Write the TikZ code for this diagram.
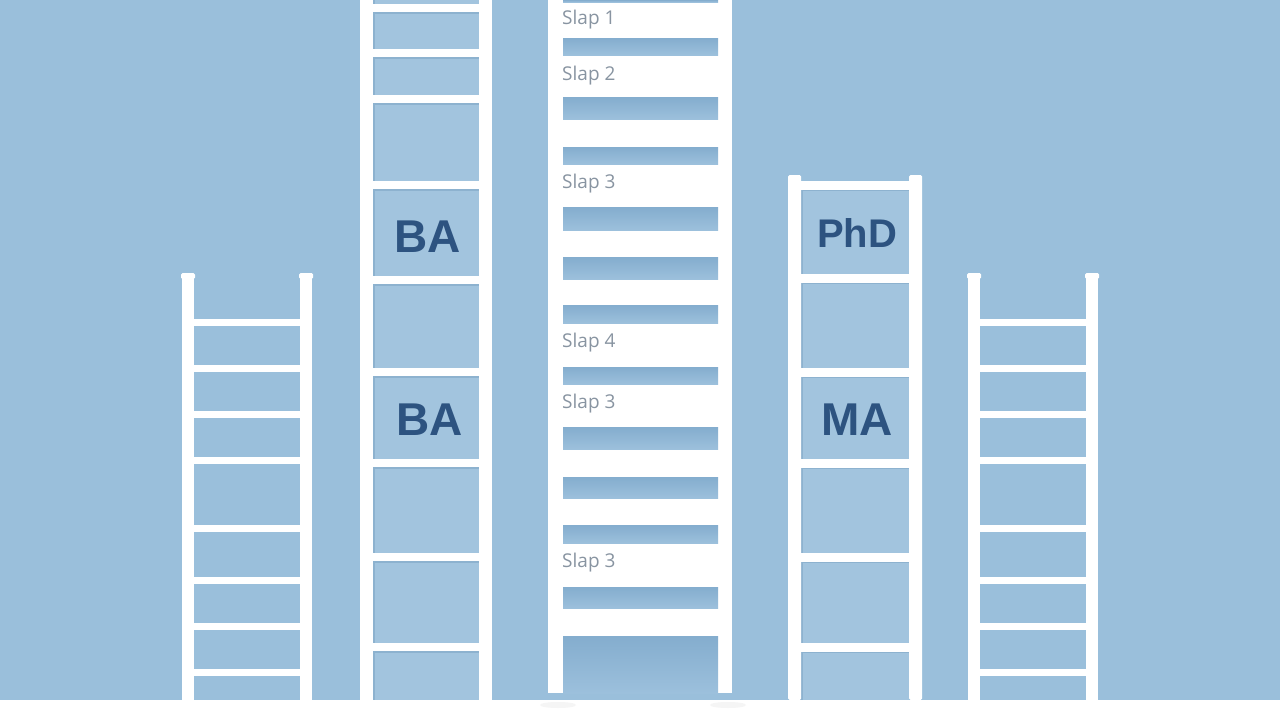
\documentclass[tikz,border=0pt]{standalone}
\usepackage{fontspec}
\setmainfont{Liberation Sans}
\newfontfamily\slapfont{Open Sans}
\definecolor{bgblue}{HTML}{9ABFDB}
\definecolor{cellblue}{HTML}{A2C4DE}
\definecolor{celledge}{HTML}{8DB2CF}
\definecolor{slottop}{HTML}{84ADCE}
\definecolor{slotbot}{HTML}{9CC0DC}
\definecolor{textblue}{HTML}{2D5380}
\definecolor{slapgrey}{HTML}{8894A1}
\tikzset{
  degree/.style={text=textblue, font=\bfseries\fontsize{46}{46}\selectfont, inner sep=0pt},
  slap/.style={text=slapgrey, font=\slapfont\fontsize{19}{19}\selectfont, anchor=west, inner sep=0pt},
  slot/.style={top color=slottop, bottom color=slotbot},
}
\begin{document}
\begin{tikzpicture}[x=1pt,y=-1pt]
\fill[bgblue] (0,0) rectangle (1280,720);
\useasboundingbox (0,0) rectangle (1280,720);

% outer short ladders
\foreach \xl/\xr in {182/312, 968/1098} {
  \fill[white] (\xl,276) rectangle (\xl+12,700);
  \fill[white] (\xr-12,276) rectangle (\xr,700);
  \fill[white, rounded corners=1.5] (\xl-1,273) rectangle (\xl+13,279);
  \fill[white, rounded corners=1.5] (\xr-13,273) rectangle (\xr+1,279);
  \foreach \y in {322,368,414,460,528,580,626,672}
    \fill[white] (\xl+12,\y-3.5) rectangle (\xr-12,\y+3.5);
}

% BA ladder
\fill[cellblue] (373,0) rectangle (480,700);
\foreach \y in {8,53,99,185,280,372,463,557,647}
  \fill[celledge] (373,\y+4) rectangle (480,\y+6);
\fill[celledge] (373,0) rectangle (375,700);
\fill[white] (360,0) rectangle (373,700);
\fill[white] (479,0) rectangle (492,700);
\foreach \y in {8,53,99,185,280,372,463,557,647}
  \fill[white] (373,\y-4) rectangle (479,\y+4);

% PhD / MA ladder
\fill[cellblue] (801,185) rectangle (909,700);
\foreach \y in {185,278,372,463,557,647}
  \fill[celledge] (801,\y+4) rectangle (909,\y+6);
\fill[celledge] (801,185) rectangle (803,700);
\fill[white, rounded corners=1.5] (788,175) rectangle (801,700);
\fill[white, rounded corners=1.5] (909,175) rectangle (922,700);
\foreach \y in {185,278,372,463,557,647}
  \fill[white] (801,\y-4.5) rectangle (909,\y+4.5);

% central ladder
\fill[white] (548,0) rectangle (732,693);
\foreach \a/\b in {0/2,38/55,97/119,147/164,207/230,257/279,305/323,367/384,427/449,477/498,525/543,587/608,636/693}
  \fill[slot] (563,\a) rectangle (718,\b);

% floor
\fill[white] (0,700) rectangle (1280,720);
\fill[gray!8] (558,705) ellipse (18 and 3);
\fill[gray!8] (728,705) ellipse (18 and 3);

% labels
\node[degree] (ba1) at (428,237) {BA};
\node[degree] (ba2) at (430,420) {BA};
\node[degree, font=\bfseries\fontsize{40}{40}\selectfont] (phd) at (857,233) {PhD};
\node[degree] (ma) at (857,420) {MA};

\node[slap] (s1) at (562,20) {Slap 1};
\node[slap] (s2) at (562,76) {Slap 2};
\node[slap] (s3) at (562,184) {Slap 3};
\node[slap] (s4) at (562,343) {Slap 4};
\node[slap] (s5) at (562,404) {Slap 3};
\node[slap] (s6) at (562,563) {Slap 3};
\end{tikzpicture}
\end{document}
